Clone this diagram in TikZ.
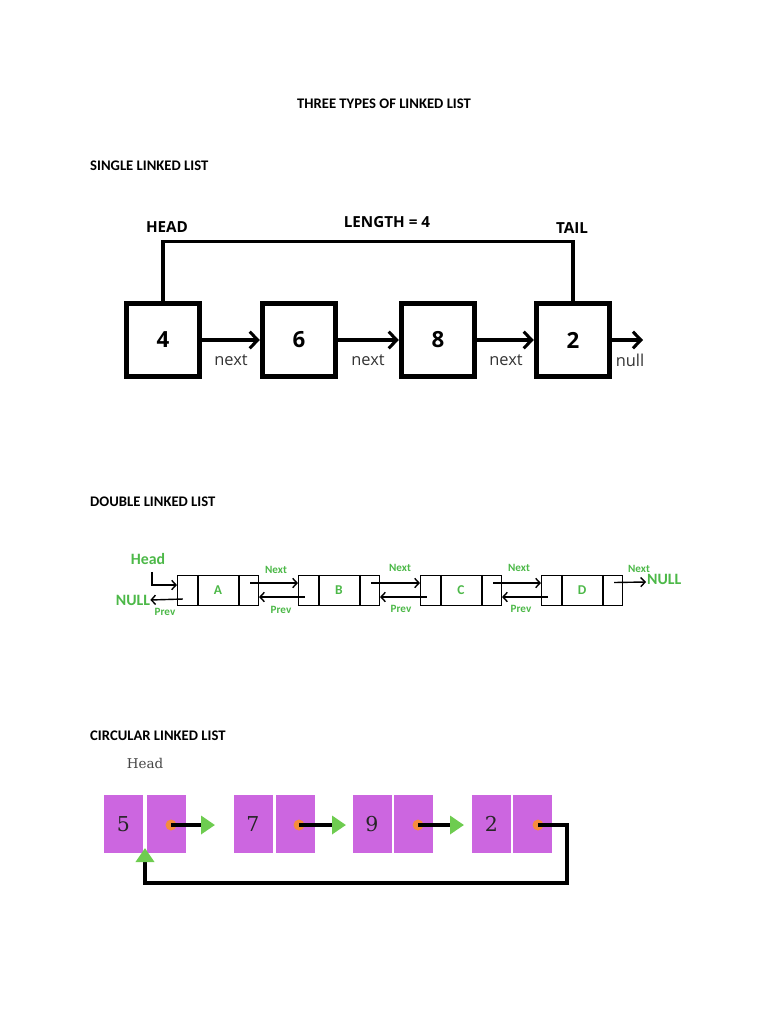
\documentclass[tikz,border=0pt]{standalone}
\usepackage{fontspec}
\usepackage{tikz}
\usetikzlibrary{arrows.meta}
\newfontfamily\calibfont{Carlito}
\newfontfamily\osansfont{Open Sans}
\newfontfamily\seriffont{DejaVu Serif}
\definecolor{dgreen}{RGB}{76,184,72}
\definecolor{cpurple}{RGB}{204,102,224}
\definecolor{corange}{RGB}{245,140,60}
\definecolor{cgreen}{RGB}{110,204,80}
\definecolor{cgray}{RGB}{70,70,70}

\begin{document}
\begin{tikzpicture}[x=0.03cm,y=-0.03cm]
\tikzstyle{every node}+=[inner sep=0pt]
\tikzstyle{heading}=[anchor=base west,font=\calibfont\bfseries\fontsize{12.5}{15}\selectfont]
\tikzstyle{sbox}=[draw,line width=4.3pt,minimum size=2.2cm,font=\osansfont\bfseries\fontsize{19}{22}\selectfont]
\tikzstyle{sarrow}=[line width=2.6pt,-{Straight Barb[length=2.4mm,width=5mm]}]
\tikzstyle{stitle}=[font=\osansfont\bfseries\fontsize{13}{15}\selectfont]
\tikzstyle{slabel}=[font=\osansfont\fontsize{14}{16}\selectfont,text=black!80]
\tikzstyle{dbox}=[draw,line width=1.2pt,minimum width=2.42cm,minimum height=0.9cm,font=\calibfont\bfseries\fontsize{11.5}{13}\selectfont,text=dgreen]
\tikzstyle{dline}=[line width=1.2pt]
\tikzstyle{darrow}=[line width=1.2pt,-{Straight Barb[length=1.3mm,width=2.8mm]}]
\tikzstyle{dlabel}=[font=\calibfont\bfseries\fontsize{13.5}{15}\selectfont,text=dgreen]
\tikzstyle{dsmall}=[font=\calibfont\bfseries\fontsize{9.5}{11}\selectfont,text=dgreen]
\tikzstyle{ccell}=[fill=cpurple,minimum width=1.17cm,minimum height=1.74cm,font=\seriffont\fontsize{17.5}{20}\selectfont,text=black!85]
\tikzstyle{cdot}=[circle,fill=corange,minimum size=0.33cm]
\tikzstyle{carrow}=[line width=3.4pt,-{Triangle[length=0.42cm,width=0.54cm,color=cgreen]}]
\useasboundingbox (0,0) rectangle (768,1024);

\node[heading,anchor=base] (title) at (384,108) {THREE TYPES OF LINKED LIST};
\node[heading] (hsingle) at (90,170) {SINGLE LINKED LIST};
\node[heading] (hdouble) at (90,506) {DOUBLE LINKED LIST};
\node[heading] (hcirc) at (90,740) {CIRCULAR LINKED LIST};

\node[sbox] (s4) at (163,340) {4};
\node[sbox] (s6) at (299,340) {6};
\node[sbox] (s8) at (438,340) {8};
\node[sbox] (s2) at (573,340) {2};
\coordinate (snull) at (643,340);
\draw[sarrow] (s4) -- (s6);
\draw[sarrow] (s6) -- (s8);
\draw[sarrow] (s8) -- (s2);
\draw[sarrow] (s2) -- (snull);
\node[slabel] (next1) at (231,360) {next};
\node[slabel] (next2) at (368,360) {next};
\node[slabel] (next3) at (506,360) {next};
\node[slabel] (nulls) at (630,360) {null};
\draw[line width=2.6pt] (s4.north) -- ++(0,-59) -| (s2.north);
\node[stitle] (shead) at (167,227) {HEAD};
\node[stitle] (slength) at (387,222) {LENGTH = 4};
\node[stitle] (stail) at (572,228) {TAIL};

\node[dbox] (dA) at (218,590.5) {A};
\node[dbox] (dB) at (339,590.5) {B};
\node[dbox] (dC) at (461,590.5) {C};
\node[dbox] (dD) at (582,590.5) {D};
\draw[dline] ([xshift=0.63cm]dA.north west) -- ([xshift=0.63cm]dA.south west);
\draw[dline] ([xshift=-0.6cm]dA.north east) -- ([xshift=-0.6cm]dA.south east);
\draw[dline] ([xshift=0.63cm]dB.north west) -- ([xshift=0.63cm]dB.south west);
\draw[dline] ([xshift=-0.6cm]dB.north east) -- ([xshift=-0.6cm]dB.south east);
\draw[dline] ([xshift=0.63cm]dC.north west) -- ([xshift=0.63cm]dC.south west);
\draw[dline] ([xshift=-0.6cm]dC.north east) -- ([xshift=-0.6cm]dC.south east);
\draw[dline] ([xshift=0.63cm]dD.north west) -- ([xshift=0.63cm]dD.south west);
\draw[dline] ([xshift=-0.6cm]dD.north east) -- ([xshift=-0.6cm]dD.south east);
\draw[darrow] ([shift={(-9,-7.5)}]dA.east) -- ([shift={(0,-7.5)}]dB.west);
\draw[darrow] ([shift={(-9,-7.5)}]dB.east) -- ([shift={(0,-7.5)}]dC.west);
\draw[darrow] ([shift={(-9,-7.5)}]dC.east) -- ([shift={(0,-7.5)}]dD.west);
\draw[darrow] ([shift={(7,6.5)}]dB.west) -- ([shift={(0,6.5)}]dA.east);
\draw[darrow] ([shift={(7,6.5)}]dC.west) -- ([shift={(0,6.5)}]dB.east);
\draw[darrow] ([shift={(7,6.5)}]dD.west) -- ([shift={(0,6.5)}]dC.east);
\node[dlabel] (dhead) at (148,559) {Head};
\draw[darrow] ([shift={(4,7)}]dhead.south) |- ([shift={(0,-5.5)}]dA.west);
\node[dlabel] (dnullL) at (133,600) {NULL};
\draw[darrow] ([shift={(6,8.5)}]dA.west) -- (dnullL.east);
\node[dlabel,anchor=west] (dnullR) at (647,579) {NULL};
\draw[darrow] ([shift={(-9,-8)}]dD.east) -- ([shift={(-1,3)}]dnullR.west);
\node[dsmall] (dnext1) at (276,570) {Next};
\node[dsmall] (dnext2) at (400,568) {Next};
\node[dsmall] (dnext3) at (519,568) {Next};
\node[dsmall] (dnext4) at (639,569) {Next};
\node[dsmall] (dprev0) at (165,612) {Prev};
\node[dsmall] (dprev1) at (281,610) {Prev};
\node[dsmall] (dprev2) at (401,609) {Prev};
\node[dsmall] (dprev3) at (521,609) {Prev};

\node[font=\seriffont\fontsize{11.5}{14}\selectfont,text=cgray] (chead) at (145,763) {Head};
\node[ccell] (c5) at (123.5,824) {5};
\node[ccell] (c5p) at (166,824) {};
\node[ccell] (c7) at (253,824) {7};
\node[ccell] (c7p) at (295,824) {};
\node[ccell] (c9) at (372,824) {9};
\node[ccell] (c9p) at (413.5,824) {};
\node[ccell] (c2) at (491.5,824) {2};
\node[ccell] (c2p) at (532.5,824) {};
\node[cdot] (o5) at (171,825) {};
\node[cdot] (o7) at (299,825) {};
\node[cdot] (o9) at (418,825) {};
\node[cdot] (o2) at (538,825) {};
\coordinate (t5) at (215,825);
\coordinate (t7) at (346,825);
\coordinate (t9) at (464,825);
\coordinate (cret) at (567,883);
\coordinate (t2) at (145,848);
\draw[carrow] (o5.center) -- (t5);
\draw[carrow] (o7.center) -- (t7);
\draw[carrow] (o9.center) -- (t9);
\draw[carrow] (o2.center) -| (cret) -| (t2);
\end{tikzpicture}
\end{document}
